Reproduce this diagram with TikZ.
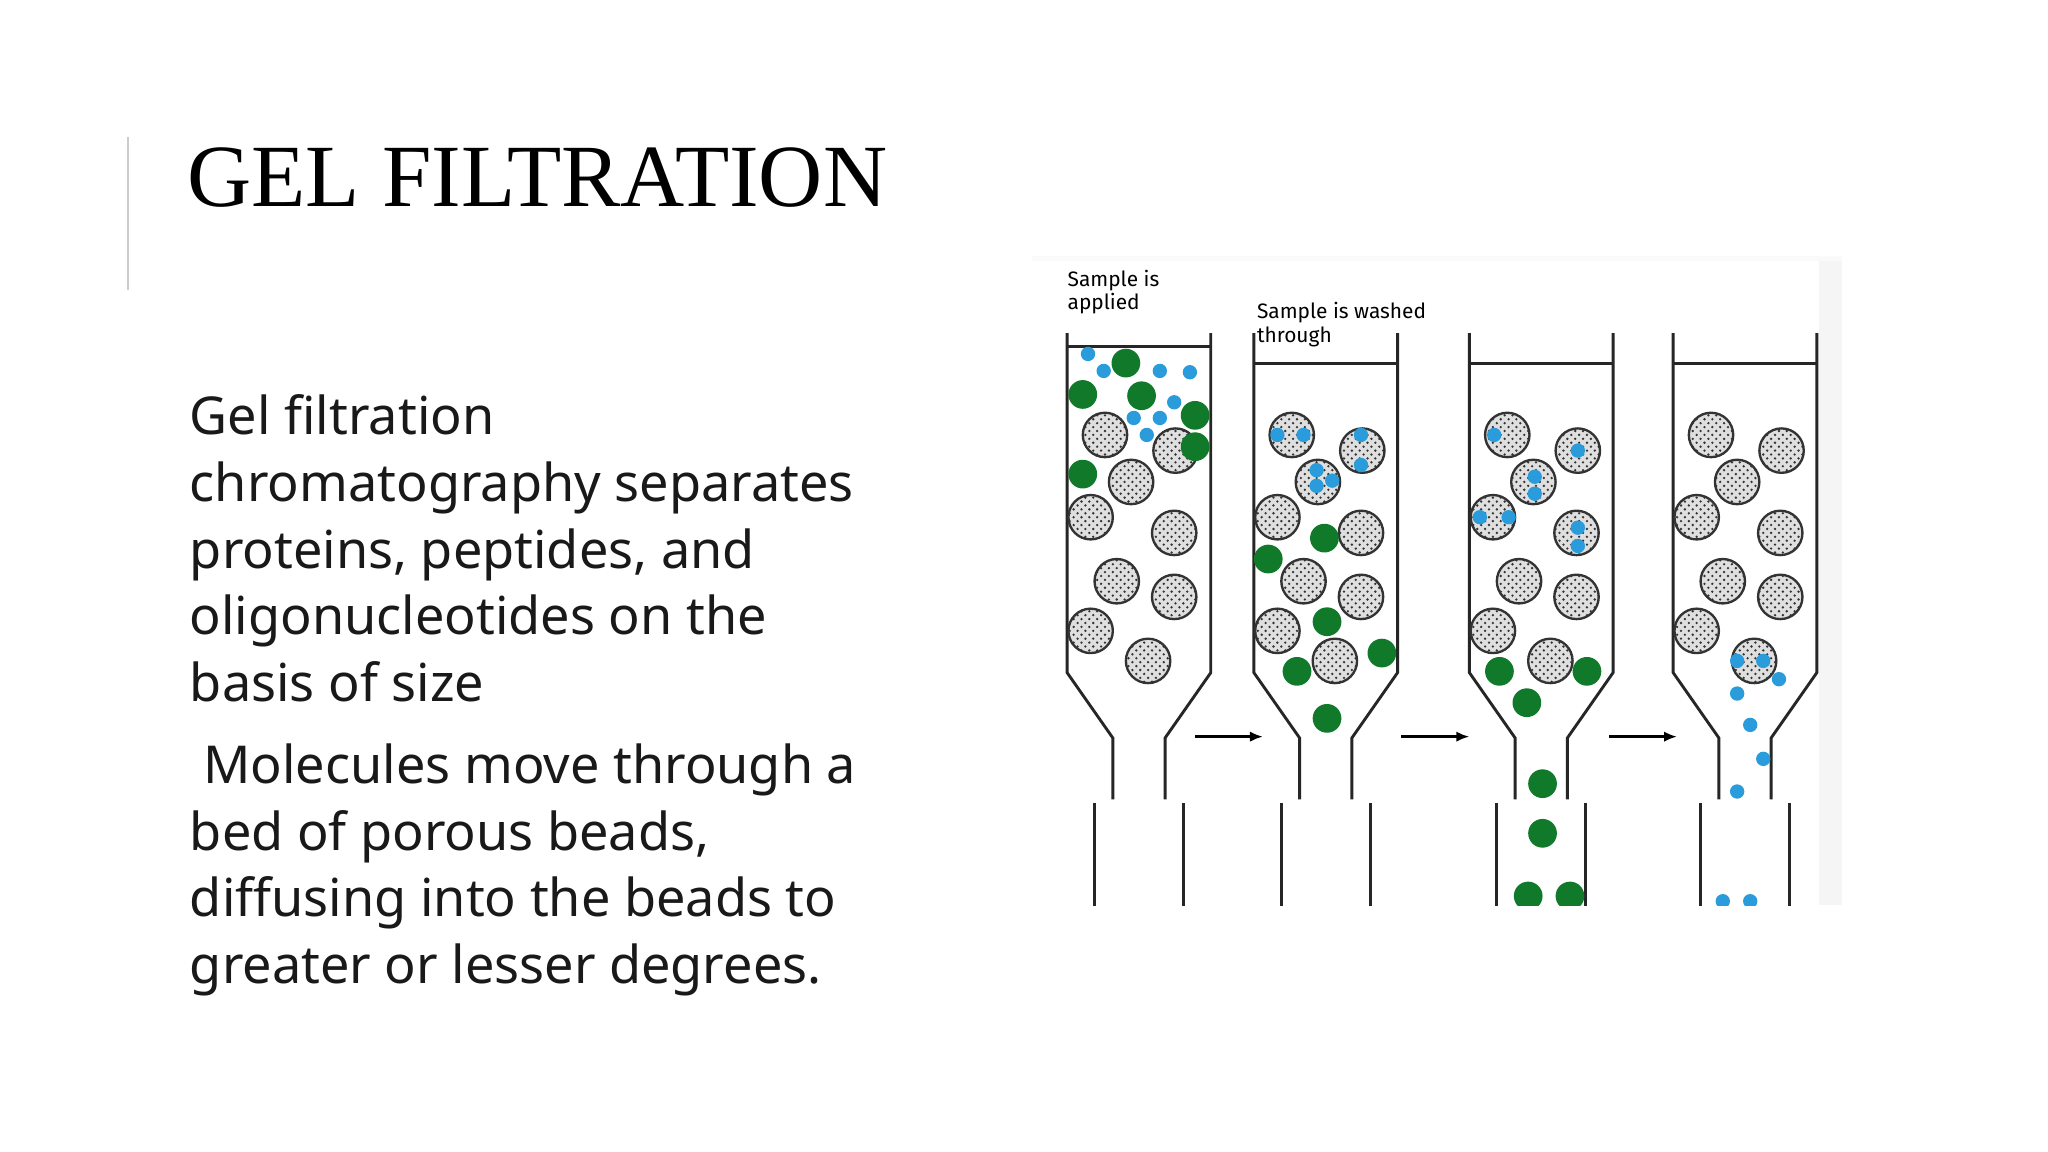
\documentclass[tikz,border=0pt]{standalone}
\usepackage{fontspec}
\setmainfont{Liberation Serif}
\newfontfamily\bodyfont{Noto Sans}
\newfontfamily\labfont{Fira Sans}
\usetikzlibrary{patterns,arrows.meta}
\definecolor{gr}{HTML}{107A2A}
\definecolor{bl}{HTML}{2A9BDB}
\tikzset{
 wall/.style={line width=1.1pt,black!85},
 bead/.style={draw=black!80,line width=0.9pt,fill=gray!25,postaction={pattern=crosshatch dots,pattern color=black!80}},
 gdot/.style={fill=gr,draw=none},
 bdot/.style={fill=bl,draw=none},
 body/.style={anchor=base west,font=\bodyfont\fontsize{20}{24}\selectfont,inner sep=0pt,text=black!90},
 lab/.style={anchor=base west,font=\labfont\fontsize{8}{9}\selectfont,inner sep=0pt,align=left},
 flow/.style={-{Latex[length=5pt,width=4pt]},line width=1pt}
}
\begin{document}
\begin{tikzpicture}[x=0.5pt,y=-0.5pt]
\useasboundingbox (0,0) rectangle (1568,882);
\fill[white] (0,0) rectangle (1568,882);
\draw[gray!40,line width=1pt] (98,105) -- (98,222);
\node[anchor=base west,inner sep=0pt,font=\fontsize{34}{36}\selectfont] (title) at (143,158) {GEL FILTRATION};
\node[body] (t1) at (145,333) {Gel filtration};
\node[body] (t2) at (145,384) {chromatography separates};
\node[body] (t3) at (145,435) {proteins, peptides, and};
\node[body] (t4) at (145,486) {oligonucleotides on the};
\node[body] (t5) at (145,537) {basis of size};
\node[body] (t6) at (145,600) {\ Molecules move through a};
\node[body] (t7) at (145,651) {bed of porous beads,};
\node[body] (t8) at (145,702) {diffusing into the beads to};
\node[body] (t9) at (145,753) {greater or lesser degrees.};
% diagram frame shade
\fill[gray!8] (1393,196) rectangle (1410,693);
\fill[gray!4] (790,196) rectangle (1410,200);
\node[lab] (l1) at (817,237) {Sample is\\applied};
\node[lab] (l2) at (962,262) {Sample is washed\\through};
\begin{scope}
\clip (780,190) rectangle (1420,693);
\foreach \ox/\lv in {817/265,960/278,1125/278,1281/278}{
 \begin{scope}[shift={(\ox,0)}]
  \draw[wall] (0,255) -- (0,515) -- (35,565) -- (35,612);
  \draw[wall] (110,255) -- (110,515) -- (75,565) -- (75,612);
  \draw[wall] (0,\lv) -- (110,\lv);
  \draw[wall] (21,615) -- (21,700);
  \draw[wall] (89,615) -- (89,700);
  \foreach \bx/\by in {29/333,83/345,49/369,18/396,82/408,38/445,82/457,18/483,62/506}
   \draw[bead] (\bx,\by) circle (17);
 \end{scope}}
% column 1
\foreach \p in {(862,278),(829,302),(874,303),(915,318),(915,342),(829,363)} \fill[gdot] \p circle (11);
\foreach \p in {(833,271),(845,284),(888,284),(911,285),(868,320),(878,333),(888,320),(899,308)} \fill[bdot] \p circle (5.5);
% column 2
\foreach \p in {(1014,412),(971,428),(1016,476),(1058,500),(993,514),(1016,550)} \fill[gdot] \p circle (11);
\foreach \p in {(978,333),(998,333),(1042,333),(1042,356),(1008,360),(1008,372),(1020,368)} \fill[bdot] \p circle (5.5);
% column 3
\foreach \p in {(1148,514),(1215,514),(1169,538),(1181,600),(1181,638),(1170,686),(1202,686)} \fill[gdot] \p circle (11);
\foreach \p in {(1144,333),(1208,345),(1175,365),(1175,378),(1133,396),(1155,396),(1208,404),(1208,418)} \fill[bdot] \p circle (5.5);
% column 4
\foreach \p in {(1330,506),(1350,506),(1362,520),(1330,531),(1340,555),(1350,581),(1330,606),(1319,690),(1340,690)} \fill[bdot] \p circle (5.5);
\end{scope}
\coordinate (a1s) at (915,564); \coordinate (a1e) at (967,564);
\coordinate (a2s) at (1073,564); \coordinate (a2e) at (1125,564);
\coordinate (a3s) at (1232,564); \coordinate (a3e) at (1284,564);
\draw[flow] (a1s) -- (a1e);
\draw[flow] (a2s) -- (a2e);
\draw[flow] (a3s) -- (a3e);
\end{tikzpicture}
\end{document}
